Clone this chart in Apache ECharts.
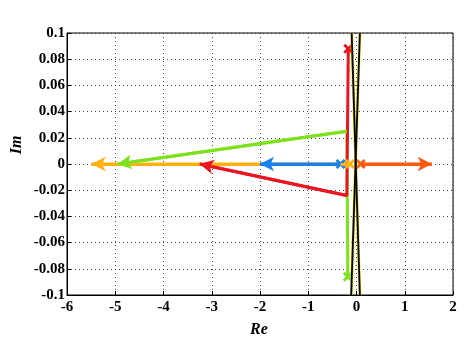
<!DOCTYPE html>
<html><head><meta charset="utf-8">
<script src="https://cdn.jsdelivr.net/npm/echarts@6/dist/echarts.min.js"></script>
<style>html,body{margin:0;padding:0;background:#fff}#c{width:474px;height:350px}</style>
</head><body><div id="c"></div>
<script>
var xTicks = [-6, -5, -4, -3, -2, -1, 0, 1, 2];
var yTicks = [-0.1, -0.08, -0.06, -0.04, -0.02, 0, 0.02, 0.04, 0.06, 0.08, 0.1];
var redPath = [[-0.17, 0.088], [-0.2, -0.024], [-3.25, 0]];
var greenPath = [[-0.18, -0.086], [-0.2, 0.025], [-4.95, 0]];
var orangePath = [[-0.135, 0], [-5.49, 0]];
var bluePath = [[-0.33, 0], [-2.0, 0]];
var redOrangePath = [[0.087, 0], [1.56, 0]];
var zetaLineA = [[-0.1, 0.1], [0.07, -0.1]];
var zetaLineB = [[0.07, 0.1], [-0.11, -0.1]];

var FONT = 'Liberation Serif';
var crossPath = 'path://M2,0L5,3L8,0L10,2L7,5L10,8L8,10L5,7L2,10L0,8L3,5L0,2Z';

function locus(name, path, color) {
  var n = path.length;
  return {
    name: name, type: 'line', data: path.map(function (p, i) {
      return { value: p, symbol: i === 0 ? crossPath : 'none', symbolSize: 10 };
    }),
    showSymbol: true, lineStyle: { color: color, width: 3 }, itemStyle: { color: color },
    markLine: {
      silent: true, symbol: ['none', 'arrow'], symbolSize: [11, 14],
      label: { show: false }, lineStyle: { color: color, width: 3, type: 'solid' },
      itemStyle: { color: color },
      data: [[{ coord: path[n - 2] }, { coord: path[n - 1] }]]
    },
    z: 3
  };
}
function zeta(path, color, w, z) {
  return { type: 'line', data: path, symbol: 'none', lineStyle: { color: color, width: w }, z: z };
}

var chart = echarts.init(document.getElementById('c'), null, { renderer: 'canvas' });
chart.setOption({
  animation: false,
  backgroundColor: '#fff',
  grid: { left: 67, right: 21, top: 33, bottom: 55, show: true, borderColor: '#000', borderWidth: 1 },
  xAxis: {
    type: 'value', min: xTicks[0], max: xTicks[xTicks.length - 1], interval: 1,
    axisLine: { show: true, onZero: false, lineStyle: { color: '#000', width: 1 } },
    axisTick: { show: true, inside: true, length: 4, lineStyle: { color: '#000' } },
    axisLabel: { color: '#000', fontFamily: FONT, fontWeight: 'bold', fontSize: 15, margin: 5 },
    splitLine: { show: true, lineStyle: { color: '#444', type: [1, 3], width: 1 } }
  },
  yAxis: {
    type: 'value', min: yTicks[0], max: yTicks[yTicks.length - 1], interval: 0.02,
    axisLine: { show: true, onZero: false, lineStyle: { color: '#000', width: 1 } },
    axisTick: { show: true, inside: true, length: 4, lineStyle: { color: '#000' } },
    axisLabel: { color: '#000', fontFamily: FONT, fontWeight: 'bold', fontSize: 15, margin: 2 },
    splitLine: { show: true, lineStyle: { color: '#444', type: [1, 3], width: 1 } }
  },
  graphic: [
    { type: 'text', left: 250, top: 322, style: { text: 'Re', font: 'italic bold 16px "Liberation Serif"', fill: '#000' } },
    { type: 'text', x: 17, y: 145, rotation: Math.PI / 2, style: { text: 'Im', font: 'italic bold 16px "Liberation Serif"', fill: '#000', align: 'center', verticalAlign: 'middle' } }
  ],
  series: [
    locus('orange', orangePath, '#FFB20F'),
    locus('green', greenPath, '#7BE21C'),
    locus('red', redPath, '#EC1420'),
    locus('blue', bluePath, '#1A82EE'),
    locus('redorange', redOrangePath, '#FF5A10'),
    zeta(zetaLineA, '#EEE000', 2.8, 4),
    zeta(zetaLineB, '#EEE000', 2.8, 4),
    zeta(zetaLineA, '#000', 1.8, 5),
    zeta(zetaLineB, '#000', 1.8, 5)
  ]
});
</script></body></html>
